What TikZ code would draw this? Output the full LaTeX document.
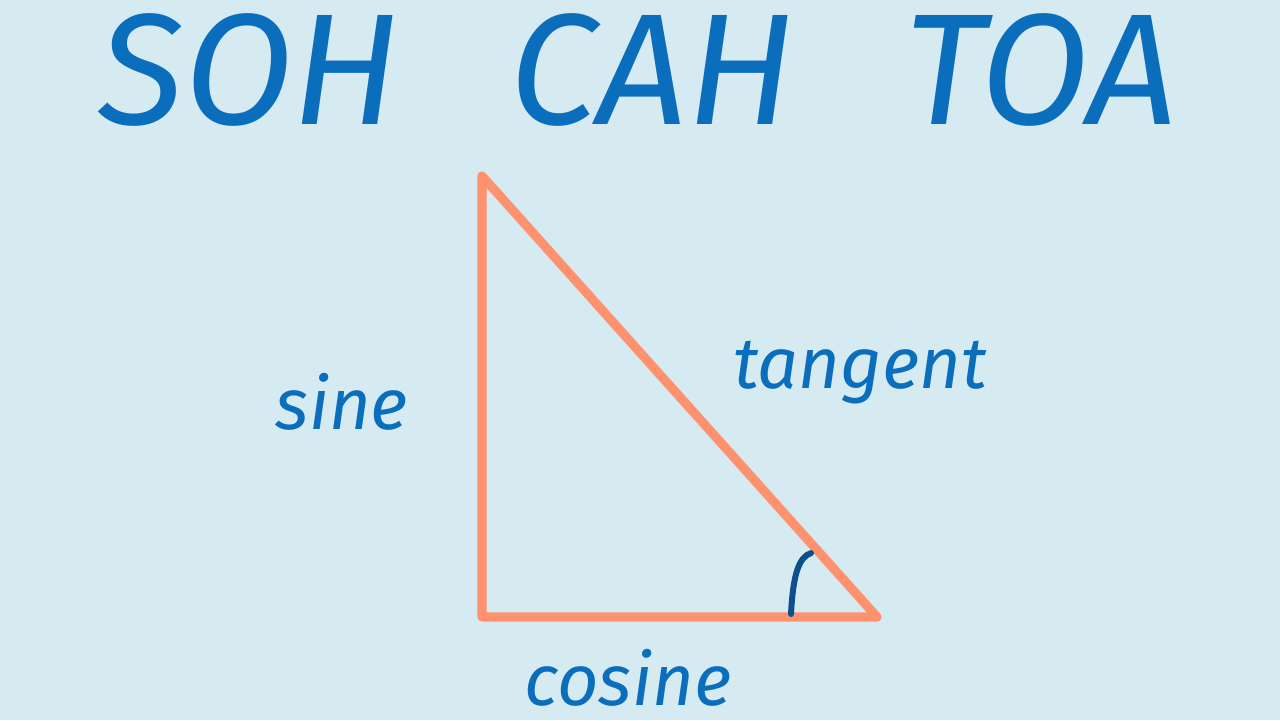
\documentclass[tikz,border=0pt]{standalone}
\usepackage{fontspec}
\setmainfont{Fira Sans}
\usetikzlibrary{positioning}
\definecolor{paleblue}{HTML}{D6EAF2}
\definecolor{inkblue}{HTML}{0B6EBD}
\definecolor{salmon}{HTML}{FF926E}
\definecolor{deepblue}{HTML}{0B4F8C}

\begin{document}
\begin{tikzpicture}[x=0.01cm, y=-0.01cm]
	\tikzstyle{title}=[text=inkblue, font=\fontsize{45}{54}\selectfont\itshape]
	\tikzstyle{side}=[text=inkblue, font=\fontsize{20.5}{24}\selectfont\itshape]
	\tikzstyle{leg}=[draw=salmon, line width=2.6pt, line join=round, line cap=round]
	\tikzstyle{anglearc}=[draw=deepblue, line width=1.7pt, line cap=round]
	\useasboundingbox (0,0) rectangle (1280,720);
	\fill[paleblue] (0,0) rectangle (1280,720);
	\node[title] (soh) at (638,70) {SOH\hspace{0.7em}CAH\hspace{0.7em}TOA};
	\coordinate (top) at (482,176);
	\coordinate (corner) at (482,617);
	\coordinate (tip) at (877,617);
	\coordinate (arcfoot) at (791,614);
	\coordinate (archead) at (811,553);
	\draw[leg] (top) -- (corner) -- (tip) -- cycle;
	\draw[anglearc] (arcfoot) .. controls (793,574) and (799,557) .. (archead);
	\node[side] (sine) at (342,402) {sine};
	\node[side] (tangent) at (860,373) {tangent};
	\node[side] (cosine) at (628,678) {cosine};
\end{tikzpicture}
\end{document}
